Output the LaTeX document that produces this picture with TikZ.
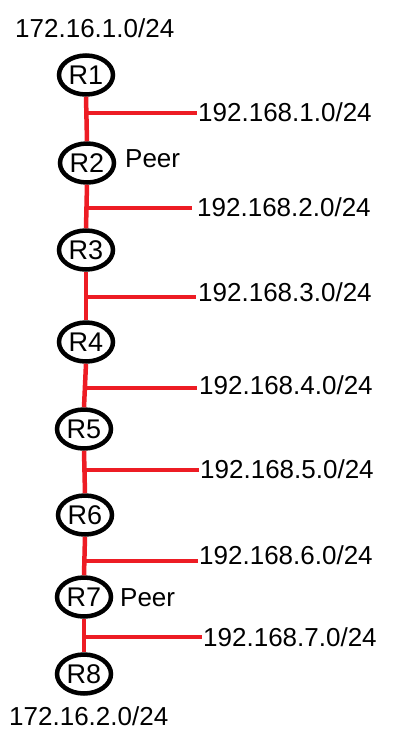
\documentclass[tikz,border=0pt]{standalone}
\usepackage{fontspec}
\setmainfont{Liberation Sans}
\usetikzlibrary{shapes.geometric}
\definecolor{netred}{RGB}{237,28,36}
\begin{document}
\begin{tikzpicture}[x=1pt,y=-1pt,
  router/.style={ellipse,draw=black,line width=4.5pt,minimum width=54pt,minimum height=39pt,inner sep=0pt,font=\fontsize{27}{30}\selectfont},
  lbl/.style={anchor=base west,inner sep=0pt,font=\fontsize{26}{30}\selectfont},
  link/.style={draw=netred,line width=4.5pt}]
\useasboundingbox (0,0) rectangle (407,756);
\node[router] (R1) at (86,75) {R1};
\node[router] (R2) at (87,163) {R2};
\node[router] (R3) at (86,250) {R3};
\node[router] (R4) at (86,342) {R4};
\node[router] (R5) at (84,429) {R5};
\node[router] (R6) at (85,515) {R6};
\node[router] (R7) at (84,597) {R7};
\node[router] (R8) at (84,674) {R8};
\node[lbl] (T1) at (15,37) {172.16.1.0/24};
\node[lbl] (T2) at (9,725) {172.16.2.0/24};
\node[lbl] (P2) at (125,167) {Peer};
\node[lbl] (P7) at (120,606) {Peer};
\node[lbl] (L1) at (198,121) {192.168.1.0/24};
\node[lbl] (L2) at (197,216) {192.168.2.0/24};
\node[lbl] (L3) at (198,301) {192.168.3.0/24};
\node[lbl] (L4) at (199,394) {192.168.4.0/24};
\node[lbl] (L5) at (200,478) {192.168.5.0/24};
\node[lbl] (L6) at (199,564) {192.168.6.0/24};
\node[lbl] (L7) at (203,646) {192.168.7.0/24};
\coordinate (b1) at (86,113);
\coordinate (b2) at (85,208);
\coordinate (b3) at (86,297);
\coordinate (b4) at (84,388);
\coordinate (b5) at (85,470);
\coordinate (b6) at (84,561);
\coordinate (b7) at (86,637);
\draw[link] (R1.south) -- (R2.north);
\draw[link] (R2.south) -- (R3.north);
\draw[link] (R3.south) -- (R4.north);
\draw[link] (R4.south) -- (R5.north);
\draw[link] (R5.south) -- (R6.north);
\draw[link] (R6.south) -- (R7.north);
\draw[link] (R7.south) -- (R8.north);
\draw[link] (b1) -- ([xshift=-1pt]b1 -| L1.west);
\draw[link] (b2) -- ([xshift=-5pt]b2 -| L2.west);
\draw[link] (b3) -- ([xshift=-2pt]b3 -| L3.west);
\draw[link] (b4) -- ([xshift=-2pt]b4 -| L4.west);
\draw[link] (b5) -- ([xshift=-1pt]b5 -| L5.west);
\draw[link] (b6) -- ([xshift=-1pt]b6 -| L6.west);
\draw[link] (b7) -- ([xshift=-1pt]b7 -| L7.west);
\end{tikzpicture}
\end{document}
